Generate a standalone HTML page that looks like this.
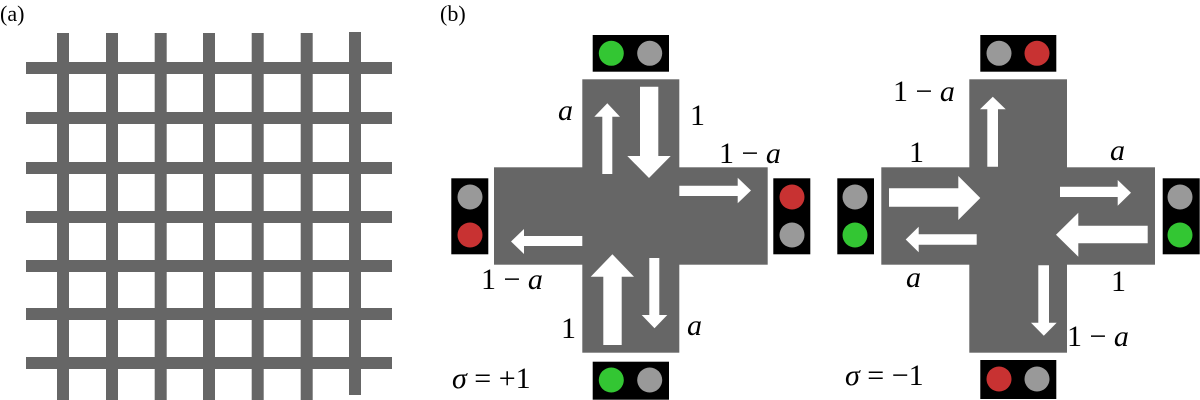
<!DOCTYPE html>
<html><head><meta charset="utf-8"><style>
html,body{margin:0;padding:0;background:#fff;}
svg{display:block;}
svg text{font-family:'Liberation Serif','DejaVu Serif',serif;font-size:30px;fill:#000;}
svg .i{font-style:italic;}
svg .lab{font-size:22px;}
</style></head><body>
<svg width="1200" height="400" viewBox="0 0 1200 400" xmlns="http://www.w3.org/2000/svg" font-family="'Liberation Serif','DejaVu Serif',serif">
<text class="lab" x="0" y="21">(a)</text>
<text class="lab" x="440" y="21">(b)</text>
<g fill="#666">
<rect x="57" y="33" width="12" height="367"/>
<rect x="106" y="33" width="12" height="367"/>
<rect x="154.7" y="33" width="12" height="367"/>
<rect x="203" y="33" width="12" height="367"/>
<rect x="251.7" y="33" width="12" height="367"/>
<rect x="300.7" y="33" width="12" height="367"/>
<rect x="349" y="32" width="12" height="363"/>
<rect x="26" y="62" width="366" height="12"/>
<rect x="26" y="112" width="366" height="12"/>
<rect x="26" y="162" width="366" height="12"/>
<rect x="26" y="211" width="366" height="12"/>
<rect x="26" y="260" width="366" height="12"/>
<rect x="26" y="308" width="366" height="12"/>
<rect x="26" y="357" width="366" height="12"/>
<rect x="582.3" y="79.3" width="97" height="273.4"/>
<rect x="494" y="167.3" width="273.7" height="97.4"/>
<rect x="969.3" y="79.3" width="97.7" height="273.4"/>
<rect x="881.3" y="167.3" width="273.7" height="97.4"/>
</g>
<g>
<rect x="592.7" y="35" width="76.3" height="36.7" fill="#000"/>
<circle cx="611.3" cy="53.3" r="12.5" fill="#33c633"/><circle cx="649.7" cy="53.3" r="12.5" fill="#999"/>
<rect x="592.7" y="361.7" width="76.3" height="38" fill="#000"/>
<circle cx="611.3" cy="380" r="12.5" fill="#33c633"/><circle cx="649.7" cy="380" r="12.5" fill="#999"/>
<rect x="451.3" y="178.3" width="37" height="76" fill="#000"/>
<circle cx="470" cy="197" r="12.5" fill="#999"/><circle cx="470" cy="235" r="12.5" fill="#c83232"/>
<rect x="773.3" y="178.3" width="37" height="76" fill="#000"/>
<circle cx="792" cy="197" r="12.5" fill="#c83232"/><circle cx="792" cy="235" r="12.5" fill="#999"/>

<rect x="980.3" y="35" width="76" height="36.7" fill="#000"/>
<circle cx="999" cy="53.3" r="12.5" fill="#999"/><circle cx="1037" cy="53.3" r="12.5" fill="#c83232"/>
<rect x="980.3" y="360" width="76" height="39" fill="#000"/>
<circle cx="999" cy="379" r="12.5" fill="#c83232"/><circle cx="1037" cy="379" r="12.5" fill="#999"/>
<rect x="837.3" y="178.3" width="36.7" height="76" fill="#000"/>
<circle cx="855" cy="197" r="12.5" fill="#999"/><circle cx="855" cy="235" r="12.5" fill="#33c633"/>
<rect x="1162.7" y="178.3" width="37" height="76" fill="#000"/>
<circle cx="1180" cy="197" r="12.5" fill="#999"/><circle cx="1180" cy="235" r="12.5" fill="#33c633"/>
</g>
<g fill="#fff">
<polygon points="602.3,174 612.3,174 612.3,116.7 620,116.7 607.3,103.3 594.3,116.7 602.3,116.7"/>
<polygon points="640,86.7 658.3,86.7 658.3,156 670.7,156 649,178 627.3,156 640,156"/>
<polygon points="679.3,185.7 737.7,185.7 737.7,177.7 751,190.5 737.7,203.3 737.7,196 679.3,196"/>
<polygon points="582.3,236 524,236 524,229 511,241.5 524,254 524,246 582.3,246"/>
<polygon points="603.3,345 621.7,345 621.7,276.7 634,276.7 612.4,254.3 590.7,276.7 603.3,276.7"/>
<polygon points="649.3,258 659.3,258 659.3,315 667.3,315 654.5,328.3 641.7,315 649.3,315"/>

<polygon points="987.3,166.7 998,166.7 998,109.3 1005.7,109.3 992.8,96.7 980,109.3 987.3,109.3"/>
<polygon points="889,188.3 958.3,188.3 958.3,176 980.3,198 958.3,220 958.3,206.7 889,206.7"/>
<polygon points="976.7,234.3 918.7,234.3 918.7,226.7 905.7,239.5 918.7,252.3 918.7,244.7 976.7,244.7"/>
<polygon points="1060,186.7 1117.7,186.7 1117.7,180 1131,192.8 1117.7,205.7 1117.7,197 1060,197"/>
<polygon points="1147.7,225.7 1078.3,225.7 1078.3,212.7 1056,234.7 1078.3,256.7 1078.3,243.3 1147.7,243.3"/>
<polygon points="1038.3,265.3 1049,265.3 1049,322.7 1056.7,322.7 1043.8,335.7 1031,322.7 1038.3,322.7"/>
</g>
<text class="i" x="558" y="120" font-style="italic">a</text>
<text x="690" y="125">1</text>
<text x="719" y="163">1 − <tspan class="i" font-style="italic">a</tspan></text>
<text x="481" y="289">1 − <tspan class="i" font-style="italic">a</tspan></text>
<text x="561" y="338">1</text>
<text class="i" x="687" y="335" font-style="italic">a</text>
<text x="452" y="388"><tspan class="i" font-style="italic">σ</tspan> = +1</text>

<text x="893" y="101">1 − <tspan class="i" font-style="italic">a</tspan></text>
<text x="909" y="162">1</text>
<text class="i" x="1110" y="160" font-style="italic">a</text>
<text class="i" x="906" y="287" font-style="italic">a</text>
<text x="1111" y="291">1</text>
<text x="1067" y="346">1 − <tspan class="i" font-style="italic">a</tspan></text>
<text x="845" y="385"><tspan class="i" font-style="italic">σ</tspan> = −1</text>
</svg>
</body></html>
